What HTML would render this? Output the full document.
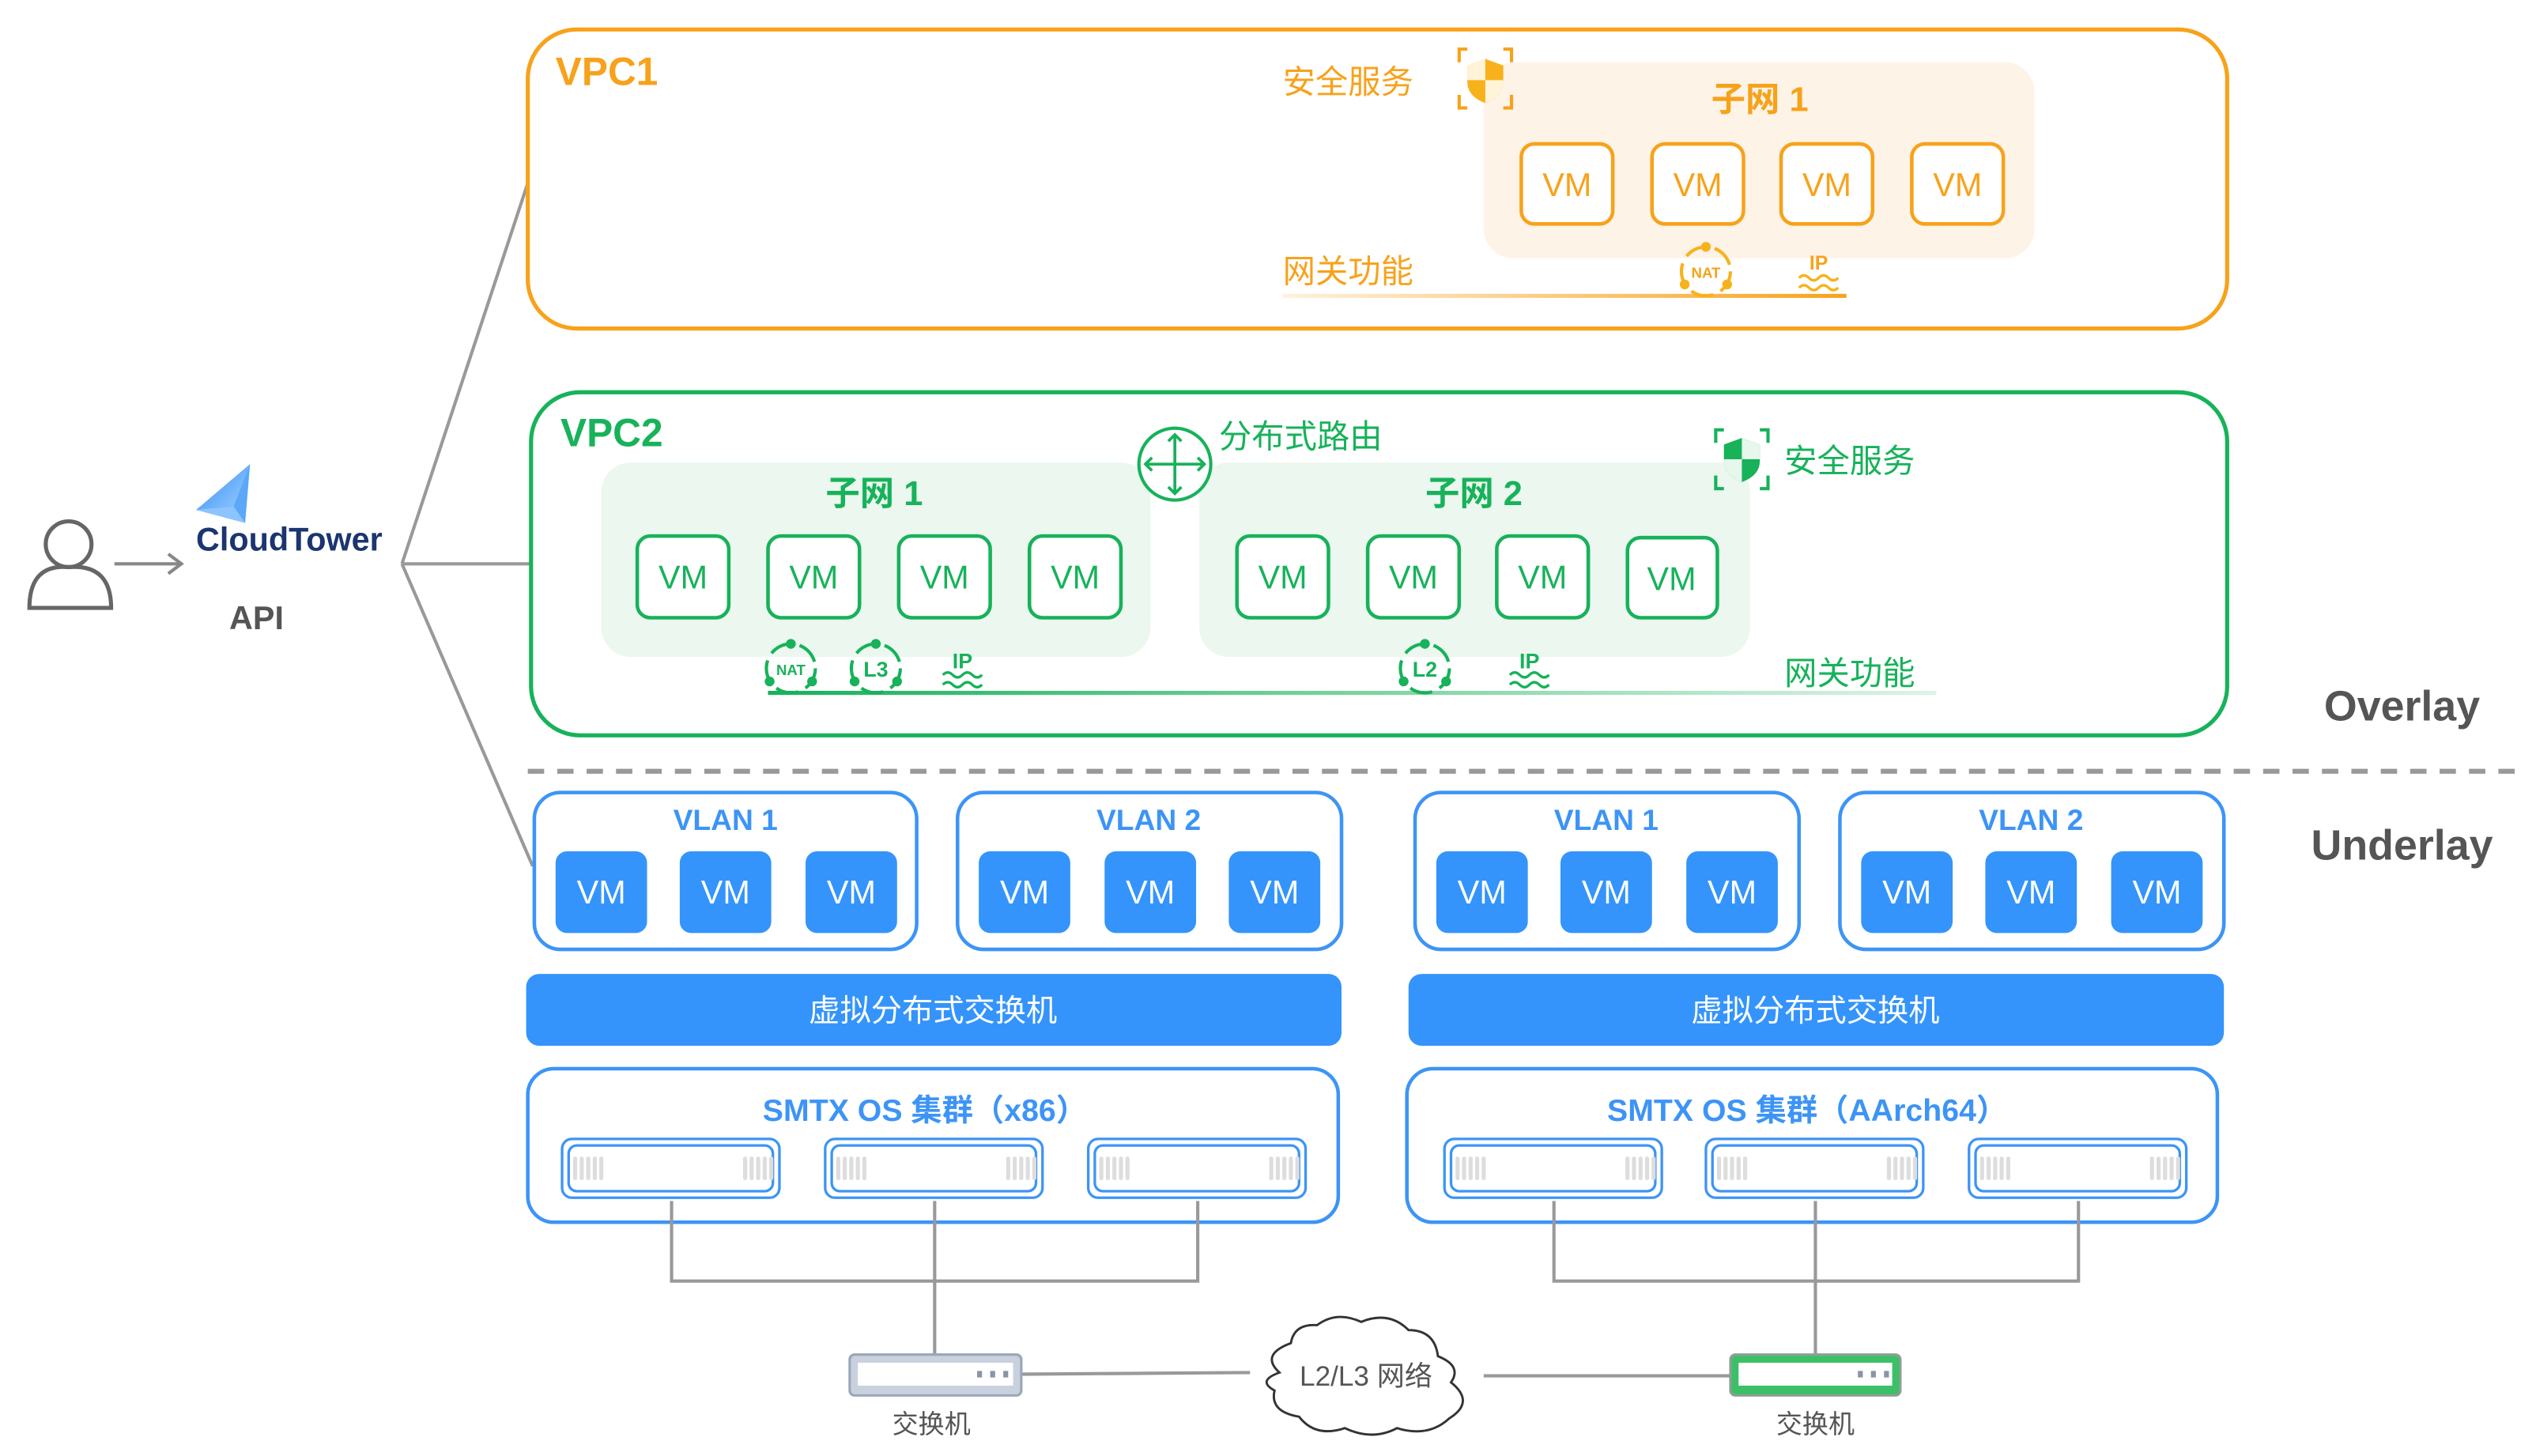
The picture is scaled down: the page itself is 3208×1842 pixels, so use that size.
<!DOCTYPE html>
<html><head><meta charset="utf-8"><style>
html,body{margin:0;padding:0;background:#fff;}
svg{display:block;}
text{font-family:"Liberation Sans","Noto Sans CJK SC",sans-serif;}
</style></head><body>
<svg width="3208" height="1842" viewBox="0 0 1552 891" xmlns="http://www.w3.org/2000/svg">
<defs>
<linearGradient id="og" gradientUnits="userSpaceOnUse" x1="785" y1="0" x2="1130" y2="0"><stop offset="0" stop-color="#f7a21b" stop-opacity="0.15"/><stop offset="1" stop-color="#f7a21b"/></linearGradient>
<linearGradient id="gg" gradientUnits="userSpaceOnUse" x1="470" y1="0" x2="1185" y2="0"><stop offset="0" stop-color="#17b25a"/><stop offset="1" stop-color="#17b25a" stop-opacity="0.15"/></linearGradient>
<linearGradient id="tri" x1="0" y1="0" x2="1" y2="1"><stop offset="0" stop-color="#2f8ef5"/><stop offset="1" stop-color="#a8d4ff"/></linearGradient>
</defs>

<!-- person -->
<circle cx="42" cy="333" r="14" fill="none" stroke="#666" stroke-width="2.5"/>
<path d="M18 372 Q18 345 42 347 Q68 345 68 372 Z" fill="none" stroke="#666" stroke-width="2.5"/>
<line x1="70" y1="345" x2="110" y2="345" stroke="#888" stroke-width="2"/>
<polyline points="103,339 111,345 103,351" fill="none" stroke="#888" stroke-width="2"/>
<!-- cloudtower logo -->
<polygon points="153,284 120,312 150,320" fill="url(#tri)"/>
<polygon points="153,284 143,310 150,320" fill="#5aa8f7"/>
<polygon points="120,312 143,310 150,320" fill="#8cc4ff"/>
<text x="120" y="337" font-size="20" font-weight="bold" fill="#1b3570">CloudTower</text>
<text x="157" y="385" font-size="20" font-weight="bold" fill="#555" text-anchor="middle">API</text>
<!-- fan lines -->
<g stroke="#999" stroke-width="2" fill="none">
<line x1="246" y1="345" x2="323" y2="112"/>
<line x1="246" y1="345" x2="325" y2="345"/>
<line x1="246" y1="345" x2="326" y2="530"/>
</g>

<!-- VPC1 -->
<rect x="323" y="18" width="1040" height="183" rx="30" fill="none" stroke="#f7a21b" stroke-width="2.5"/>
<text x="340" y="52" font-size="24" font-weight="bold" fill="#f7a21b">VPC1</text>
<rect x="908" y="38" width="337" height="120" rx="18" fill="#fdf3e7"/>
<text x="785" y="57" font-size="20" fill="#f7a21b">安全服务</text>
<g stroke="#f7a21b" stroke-width="2" fill="none">
<path d="M898 30 H893 V38 M920 30 H925 V38 M893 58 V66 H898 M925 58 V66 H920"/>
</g>
<path d="M909 36 L920 40 V50 Q920 59 909 63 Q898 59 898 50 V40 Z" fill="#f7b21b"/>
<path d="M909 36 L898 40 V49 H909 Z M909 49 H920 V50 Q920 59 909 63 Z" fill="#fff3d8"/>
<text x="1077" y="68" font-size="21" font-weight="bold" fill="#f7a21b" text-anchor="middle">子网 1</text>
<g fill="#fff" stroke="#f7a21b" stroke-width="2.2">
<rect x="931" y="88" width="56" height="49" rx="8"/><rect x="1011" y="88" width="56" height="49" rx="8"/>
<rect x="1090" y="88" width="56" height="49" rx="8"/><rect x="1170" y="88" width="56" height="49" rx="8"/>
</g>
<g font-size="20" fill="#f7a21b" text-anchor="middle">
<text x="959" y="120">VM</text><text x="1039" y="120">VM</text><text x="1118" y="120">VM</text><text x="1198" y="120">VM</text>
</g>
<text x="785" y="173" font-size="20" fill="#f7a21b">网关功能</text>
<line x1="785" y1="181" x2="1130" y2="181" stroke="url(#og)" stroke-width="2.5"/>
<g stroke="#f7b21b" stroke-width="2" fill="none"><circle cx="1044" cy="166" r="15" stroke-dasharray="14 5"/></g>
<g fill="#f7b21b"><circle cx="1044" cy="151" r="3"/><circle cx="1031" cy="174" r="3"/><circle cx="1057" cy="174" r="3"/></g>
<text x="1044" y="170" font-size="9" font-weight="bold" fill="#f7a21b" text-anchor="middle">NAT</text>
<text x="1113" y="165" font-size="12" font-weight="bold" fill="#f7a21b" text-anchor="middle">IP</text>
<path d="M1101 170 q3 -3 6 0 t6 0 t6 0 t6 0 M1101 176 q3 -3 6 0 t6 0 t6 0 t6 0" stroke="#f7b21b" stroke-width="1.6" fill="none"/>

<!-- VPC2 -->
<rect x="325" y="240" width="1038" height="210" rx="30" fill="none" stroke="#17b25a" stroke-width="2.5"/>
<text x="343" y="273" font-size="24" font-weight="bold" fill="#17b25a">VPC2</text>
<rect x="368" y="283" width="336" height="119" rx="18" fill="#ebf7ef"/>
<rect x="734" y="283" width="337" height="119" rx="18" fill="#ebf7ef"/>
<text x="535" y="309" font-size="21" font-weight="bold" fill="#17b25a" text-anchor="middle">子网 1</text>
<text x="902" y="309" font-size="21" font-weight="bold" fill="#17b25a" text-anchor="middle">子网 2</text>
<g fill="#fff" stroke="#17b25a" stroke-width="2.2">
<rect x="390" y="328" width="56" height="50" rx="8"/><rect x="470" y="328" width="56" height="50" rx="8"/>
<rect x="550" y="328" width="56" height="50" rx="8"/><rect x="630" y="328" width="56" height="50" rx="8"/>
<rect x="757" y="328" width="56" height="50" rx="8"/><rect x="837" y="328" width="56" height="50" rx="8"/>
<rect x="916" y="328" width="56" height="50" rx="8"/><rect x="996" y="329" width="55" height="49" rx="8"/>
</g>
<g font-size="20" fill="#17b25a" text-anchor="middle">
<text x="418" y="360">VM</text><text x="498" y="360">VM</text><text x="578" y="360">VM</text><text x="658" y="360">VM</text>
<text x="785" y="360">VM</text><text x="865" y="360">VM</text><text x="944" y="360">VM</text><text x="1023" y="361">VM</text>
</g>
<!-- router -->
<circle cx="719" cy="284" r="22" fill="#fff" stroke="#17b25a" stroke-width="2"/>
<g stroke="#17b25a" stroke-width="1.8" fill="none">
<path d="M719 266 V302 M701 284 H737 M715 270 L719 266 L723 270 M715 298 L719 302 L723 298 M705 280 L701 284 L705 288 M733 280 L737 284 L733 288"/>
</g>
<text x="746" y="274" font-size="20" fill="#17b25a">分布式路由</text>
<!-- shield green -->
<g stroke="#17b25a" stroke-width="2" fill="none">
<path d="M1055 263 H1050 V271 M1077 263 H1082 V271 M1050 291 V299 H1055 M1082 291 V299 H1077"/>
</g>
<path d="M1066 268 L1077 272 V282 Q1077 291 1066 295 Q1055 291 1055 282 V272 Z" fill="#17b25a"/>
<path d="M1066 268 L1077 272 V281 H1066 Z M1066 281 H1055 V282 Q1055 291 1066 295 Z" fill="#e6f7ec"/>
<text x="1092" y="289" font-size="20" fill="#17b25a">安全服务</text>
<!-- gateway green -->
<line x1="470" y1="424" x2="1185" y2="424" stroke="url(#gg)" stroke-width="2.5"/>
<text x="1092" y="419" font-size="20" fill="#17b25a">网关功能</text>
<g stroke="#17b25a" stroke-width="2" fill="none">
<circle cx="484" cy="409" r="15" stroke-dasharray="14 5"/><circle cx="536" cy="409" r="15" stroke-dasharray="14 5"/><circle cx="872" cy="409" r="15" stroke-dasharray="14 5"/>
<path d="M577 413 q3 -3 6 0 t6 0 t6 0 t6 0 M577 419 q3 -3 6 0 t6 0 t6 0 t6 0 M924 413 q3 -3 6 0 t6 0 t6 0 t6 0 M924 419 q3 -3 6 0 t6 0 t6 0 t6 0" stroke-width="1.6"/>
</g>
<g fill="#17b25a">
<circle cx="484" cy="394" r="3"/><circle cx="471" cy="417" r="3"/><circle cx="497" cy="417" r="3"/>
<circle cx="536" cy="394" r="3"/><circle cx="523" cy="417" r="3"/><circle cx="549" cy="417" r="3"/>
<circle cx="872" cy="394" r="3"/><circle cx="859" cy="417" r="3"/><circle cx="885" cy="417" r="3"/>
</g>
<g font-weight="bold" fill="#17b25a" text-anchor="middle">
<text x="484" y="413" font-size="9">NAT</text><text x="536" y="414" font-size="13">L3</text><text x="872" y="414" font-size="13">L2</text>
<text x="589" y="409" font-size="13">IP</text><text x="936" y="409" font-size="13">IP</text>
</g>

<!-- overlay/underlay -->
<text x="1470" y="441" font-size="26" font-weight="bold" fill="#555" text-anchor="middle">Overlay</text>
<line x1="323" y1="472" x2="1540" y2="472" stroke="#999" stroke-width="3" stroke-dasharray="10 8"/>
<text x="1470" y="526" font-size="26" font-weight="bold" fill="#555" text-anchor="middle">Underlay</text>

<!-- VLANs -->
<g fill="#fff" stroke="#3d94f6" stroke-width="2.2">
<rect x="327" y="485" width="234" height="96" rx="16"/><rect x="586" y="485" width="235" height="96" rx="16"/>
<rect x="866" y="485" width="235" height="96" rx="16"/><rect x="1126" y="485" width="235" height="96" rx="16"/>
</g>
<g font-size="18" font-weight="bold" fill="#3d94f6" text-anchor="middle">
<text x="444" y="508">VLAN 1</text><text x="703" y="508">VLAN 2</text><text x="983" y="508">VLAN 1</text><text x="1243" y="508">VLAN 2</text>
</g>
<g fill="#3494fb">
<rect x="340" y="521" width="56" height="50" rx="7"/><rect x="416" y="521" width="56" height="50" rx="7"/><rect x="493" y="521" width="56" height="50" rx="7"/>
<rect x="599" y="521" width="56" height="50" rx="7"/><rect x="676" y="521" width="56" height="50" rx="7"/><rect x="752" y="521" width="56" height="50" rx="7"/>
<rect x="879" y="521" width="56" height="50" rx="7"/><rect x="955" y="521" width="56" height="50" rx="7"/><rect x="1032" y="521" width="56" height="50" rx="7"/>
<rect x="1139" y="521" width="56" height="50" rx="7"/><rect x="1215" y="521" width="56" height="50" rx="7"/><rect x="1292" y="521" width="56" height="50" rx="7"/>
</g>
<g font-size="20" fill="#fff" text-anchor="middle">
<text x="368" y="553">VM</text><text x="444" y="553">VM</text><text x="521" y="553">VM</text>
<text x="627" y="553">VM</text><text x="704" y="553">VM</text><text x="780" y="553">VM</text>
<text x="907" y="553">VM</text><text x="983" y="553">VM</text><text x="1060" y="553">VM</text>
<text x="1167" y="553">VM</text><text x="1243" y="553">VM</text><text x="1320" y="553">VM</text>
</g>
<!-- vds bars -->
<rect x="322" y="596" width="499" height="44" rx="8" fill="#3494fb"/>
<rect x="862" y="596" width="499" height="44" rx="8" fill="#3494fb"/>
<text x="571" y="625" font-size="19" fill="#fff" text-anchor="middle">虚拟分布式交换机</text>
<text x="1111" y="625" font-size="19" fill="#fff" text-anchor="middle">虚拟分布式交换机</text>
<!-- SMTX -->
<g fill="#fff" stroke="#3d94f6" stroke-width="2.2">
<rect x="323" y="654" width="496" height="94" rx="16"/><rect x="861" y="654" width="496" height="94" rx="16"/>
</g>
<text x="566" y="686" font-size="19" font-weight="bold" fill="#3d94f6" text-anchor="middle">SMTX OS 集群（x86）</text>
<text x="1106" y="686" font-size="19" font-weight="bold" fill="#3d94f6" text-anchor="middle">SMTX OS 集群（AArch64）</text>
<g fill="none" stroke="#3d94f6" stroke-width="1.6">
<rect x="344" y="697" width="133" height="36" rx="6"/><rect x="348" y="701" width="125" height="28" rx="5"/>
<rect x="505" y="697" width="133" height="36" rx="6"/><rect x="509" y="701" width="125" height="28" rx="5"/>
<rect x="666" y="697" width="133" height="36" rx="6"/><rect x="670" y="701" width="125" height="28" rx="5"/>
<rect x="884" y="697" width="133" height="36" rx="6"/><rect x="888" y="701" width="125" height="28" rx="5"/>
<rect x="1044" y="697" width="133" height="36" rx="6"/><rect x="1048" y="701" width="125" height="28" rx="5"/>
<rect x="1205" y="697" width="133" height="36" rx="6"/><rect x="1209" y="701" width="125" height="28" rx="5"/>
</g>
<g stroke="#ddd" stroke-width="2.5" stroke-linecap="round">
<path d="M352 709v12M356 709v12M360 709v12M364 709v12M368 709v12 M456 709v12M460 709v12M464 709v12M468 709v12M472 709v12"/>
<path d="M513 709v12M517 709v12M521 709v12M525 709v12M529 709v12 M617 709v12M621 709v12M625 709v12M629 709v12M633 709v12"/>
<path d="M674 709v12M678 709v12M682 709v12M686 709v12M690 709v12 M778 709v12M782 709v12M786 709v12M790 709v12M794 709v12"/>
<path d="M892 709v12M896 709v12M900 709v12M904 709v12M908 709v12 M996 709v12M1000 709v12M1004 709v12M1008 709v12M1012 709v12"/>
<path d="M1052 709v12M1056 709v12M1060 709v12M1064 709v12M1068 709v12 M1156 709v12M1160 709v12M1164 709v12M1168 709v12M1172 709v12"/>
<path d="M1213 709v12M1217 709v12M1221 709v12M1225 709v12M1229 709v12 M1317 709v12M1321 709v12M1325 709v12M1329 709v12M1333 709v12"/>
</g>
<!-- connectors -->
<g stroke="#999" stroke-width="2" fill="none">
<path d="M411 735 V784 H733 V735 M572 735 V830"/>
<path d="M951 735 V784 H1272 V735 M1111 735 V830"/>
<path d="M625 841 L765 840 M908 842 H1059"/>
</g>
<!-- switches -->
<rect x="520" y="829" width="105" height="25" rx="3" fill="#c9d1de" stroke="#9aa6b8" stroke-width="1.5"/>
<rect x="525" y="834" width="95" height="14" fill="#fff"/>
<g fill="#8a94a6"><rect x="598" y="839" width="3" height="4"/><rect x="606" y="839" width="3" height="4"/><rect x="614" y="839" width="3" height="4"/></g>
<rect x="1059" y="829" width="104" height="25" rx="3" fill="#3cc067" stroke="#8f9e96" stroke-width="1.5"/>
<rect x="1064" y="834" width="94" height="14" fill="#fff"/>
<g fill="#8a94a6"><rect x="1137" y="839" width="3" height="4"/><rect x="1145" y="839" width="3" height="4"/><rect x="1153" y="839" width="3" height="4"/></g>
<text x="570" y="877" font-size="16" fill="#555" text-anchor="middle">交换机</text>
<text x="1111" y="877" font-size="16" fill="#555" text-anchor="middle">交换机</text>
<!-- cloud -->
<path d="M790 822 Q792 810 806 811 Q818 802 833 809 Q850 802 862 814 Q878 814 880 830 Q895 836 888 846 Q903 858 887 868 Q874 880 855 874 Q840 882 823 874 Q805 880 795 867 Q777 864 780 851 Q769 845 783 840 Q771 829 790 822 Z" fill="#fff" stroke="#333" stroke-width="1.4"/>
<text x="836" y="848" font-size="17" fill="#555" text-anchor="middle">L2/L3 网络</text>
</svg>
</body></html>
